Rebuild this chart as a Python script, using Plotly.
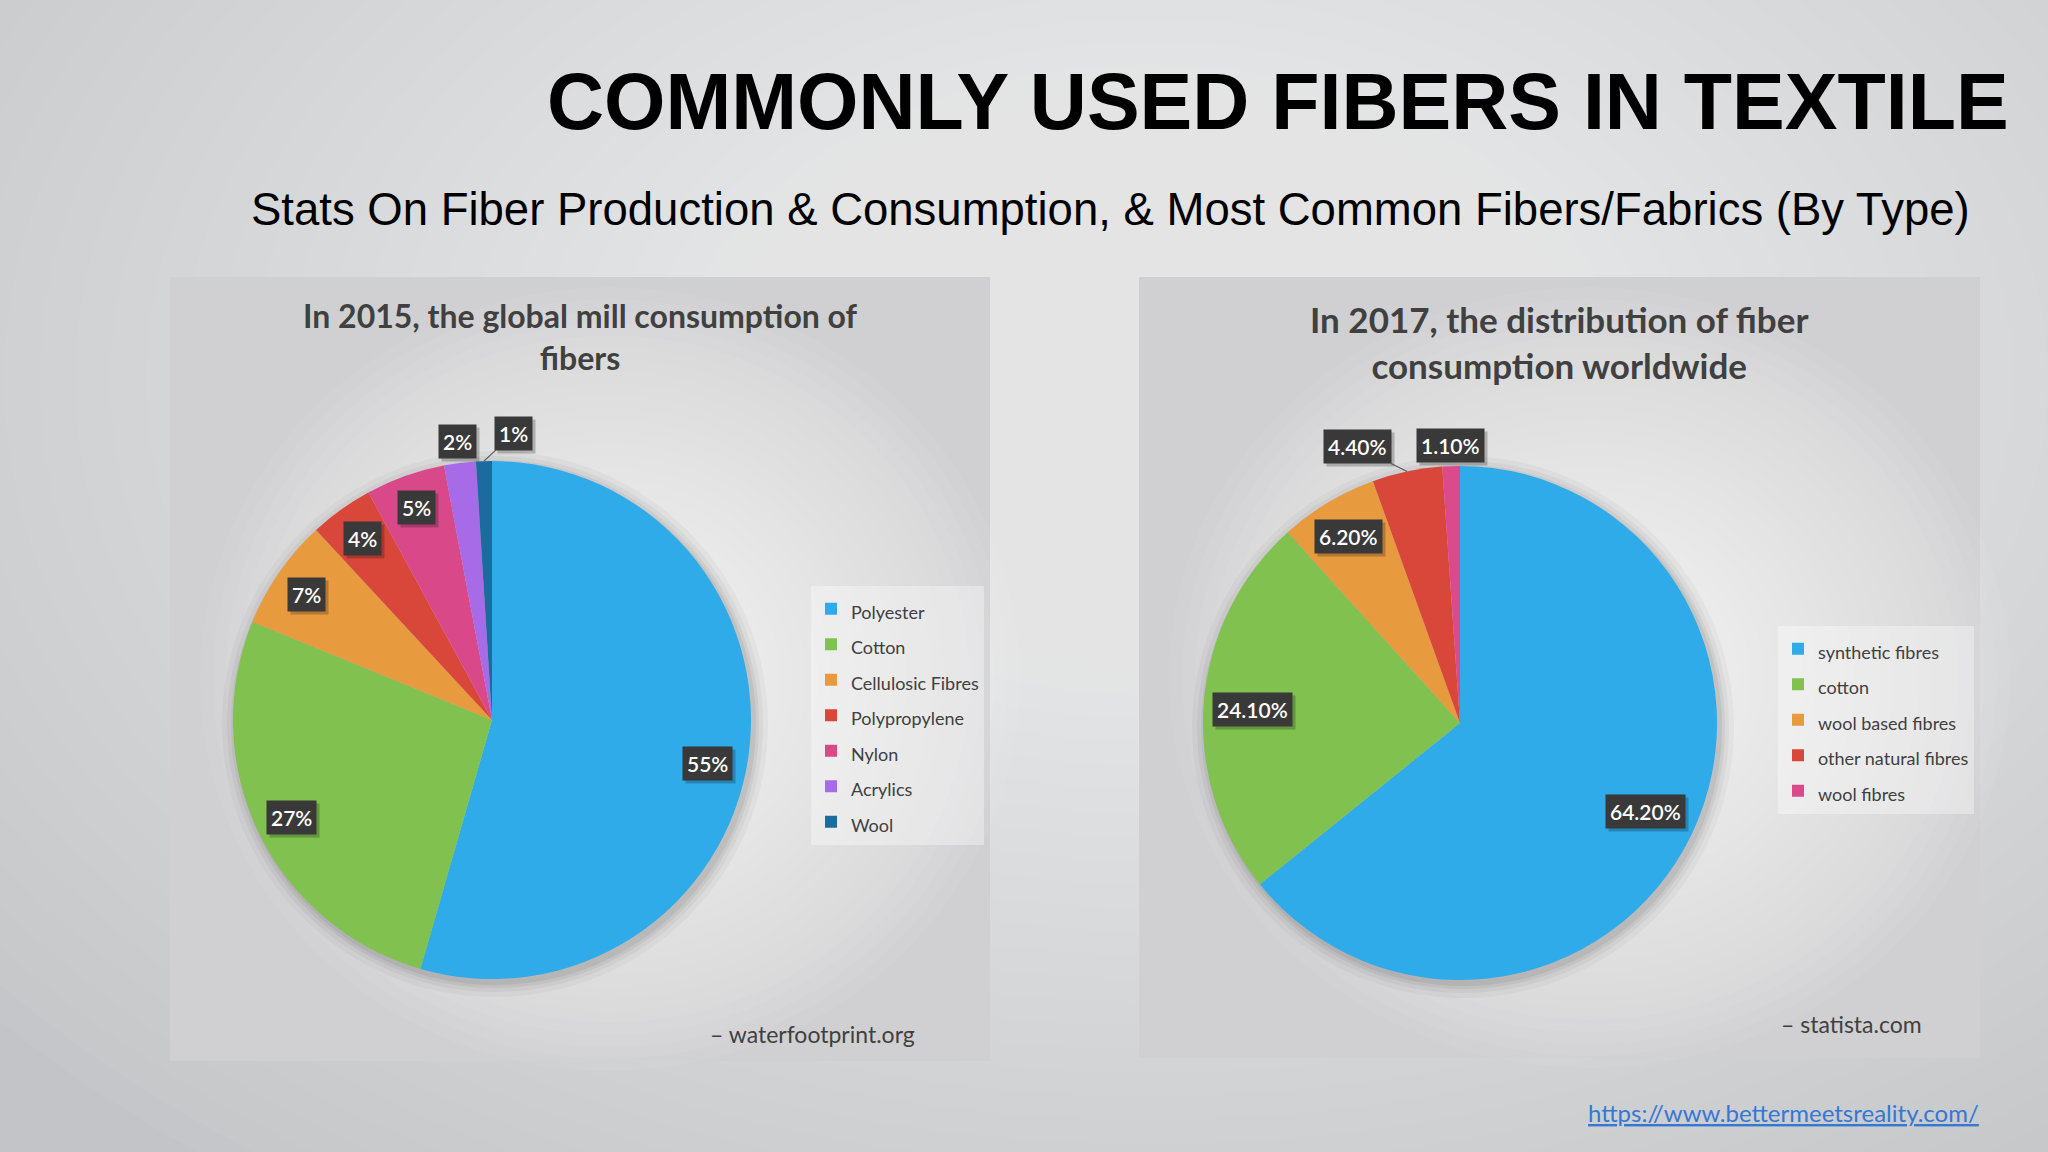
import math
import plotly.graph_objects as go

W, H = 2048, 1152

# ---------------- data ----------------
left_labels = ["Polyester", "Cotton", "Cellulosic Fibres", "Polypropylene", "Nylon", "Acrylics", "Wool"]
left_values = [55, 27, 7, 4, 5, 2, 1]
left_text = ["55%", "27%", "7%", "4%", "5%", "2%", "1%"]

right_labels = ["synthetic fibres", "cotton", "wool based fibres", "other natural fibres", "wool fibres"]
right_values = [64.2, 24.1, 6.2, 4.4, 1.1]
right_text = ["64.20%", "24.10%", "6.20%", "4.40%", "1.10%"]

left_colors = ["#2FABE9", "#80C14F", "#E79A3E", "#D9473A", "#D9498A", "#A86BE8", "#1C6B9E"]
right_colors = ["#2FABE9", "#80C14F", "#E79A3E", "#D9473A", "#DB4A8B"]

# ---------------- helpers ----------------
def px(x):
    return x / W


def py(y):
    return 1 - y / H


PANEL_FONT = "Lato, 'Open Sans', sans-serif"
LEG_TEXT = 18


def leg_label(s):
    return f"<span style='font-size:{LEG_TEXT}px'>{s}</span>"


# pie geometry (pixels)
L_C, L_R = (492, 720), 259
R_C, R_R = (1460, 723), 257

shapes = []
annotations = []

# slide background vignette
N = 36
for i in range(N):
    s = 1 - i * (0.85 / N)
    shapes.append(dict(type="circle", xref="paper", yref="paper", layer="below",
                       x0=px(1150 - 1500 * s), x1=px(1150 + 1500 * s),
                       y0=py(380 + 1000 * s), y1=py(380 - 1000 * s),
                       fillcolor="rgba(255,255,255,0.036)", line=dict(width=0)))


def panel(x0, y0, x1, y1):
    shapes.append(dict(type="rect", xref="paper", yref="paper", layer="below",
                       x0=px(x0), x1=px(x1), y0=py(y1), y1=py(y0),
                       fillcolor="#d0d0d2", line=dict(width=0)))
    cx, cy = (x0 + x1) / 2 + 30, (y0 + y1) / 2 + 10
    hw, hh = (x1 - x0) / 2, (y1 - y0) / 2
    n = 26
    for i in range(n):
        s = 1.0 - i * (0.8 / n)
        shapes.append(dict(type="circle", xref="paper", yref="paper", layer="below",
                           x0=px(cx - hw * s), x1=px(cx + hw * s),
                           y0=py(cy + hh * s), y1=py(cy - hh * s),
                           fillcolor="rgba(255,255,255,0.05)", line=dict(width=0)))


panel(170, 277, 990, 1061)
panel(1139, 277, 1980, 1058)


def pie_shadow(c, r):
    for d, a in [(14, 0.03), (9, 0.04), (5, 0.05), (2, 0.06)]:
        shapes.append(dict(type="circle", xref="paper", yref="paper", layer="below",
                           x0=px(c[0] - r - d + 3), x1=px(c[0] + r + d + 3),
                           y0=py(c[1] + r + d + 4), y1=py(c[1] - r - d + 4),
                           fillcolor=f"rgba(0,0,0,{a})", line=dict(width=0)))


pie_shadow(L_C, L_R)
pie_shadow(R_C, R_R)


def domain(c, r):
    return dict(x=[px(c[0] - r), px(c[0] + r)], y=[py(c[1] + r), py(c[1] - r)])


fig = go.Figure()
fig.add_trace(go.Pie(labels=[leg_label(s) for s in left_labels], values=left_values, sort=False,
                     direction="clockwise", rotation=0,
                     marker=dict(colors=left_colors, line=dict(width=0)),
                     textinfo="none", hoverinfo="skip", domain=domain(L_C, L_R),
                     legend="legend", showlegend=True))
fig.add_trace(go.Pie(labels=[leg_label(s) for s in right_labels], values=right_values, sort=False,
                     direction="clockwise", rotation=0,
                     marker=dict(colors=right_colors, line=dict(width=0)),
                     textinfo="none", hoverinfo="skip", domain=domain(R_C, R_R),
                     legend="legend2", showlegend=True))

BOX = "#3a3939"
LBL_FONT = dict(family=PANEL_FONT, size=21, color="white", weight=600)
SHADOW_FONT = dict(family=PANEL_FONT, size=21, color="rgba(0,0,0,0)", weight=600)


def box_label(x, y, text, ax=None, ay=None):
    common = dict(xref="paper", yref="paper", text=text, borderpad=4,
                  xanchor="center", yanchor="middle")
    tx, ty = (x, y) if ax is None else (x + ax, y + ay)
    annotations.append(dict(x=px(tx), y=py(ty), showarrow=False, xshift=3, yshift=-3,
                            bgcolor="rgba(0,0,0,0.22)", font=SHADOW_FONT, **common))
    if ax is None:
        annotations.append(dict(x=px(x), y=py(y), showarrow=False, bgcolor=BOX, font=LBL_FONT, **common))
    else:
        annotations.append(dict(x=px(x), y=py(y), showarrow=True, ax=ax, ay=ay, arrowhead=0,
                                arrowwidth=1.2, arrowcolor="#595959", standoff=0,
                                bgcolor=BOX, font=LBL_FONT, **common))


def label_pie(c, r, values, texts, place):
    total = sum(values)
    cum = 0
    for v, t, p in zip(values, texts, place):
        a = 2 * math.pi * (cum + v / 2) / total
        cum += v
        sx, sy = math.sin(a), -math.cos(a)
        if p[0] == "in":
            f = p[1]
            nx, ny = (p[2], p[3]) if len(p) > 2 else (0, 0)
            box_label(c[0] + sx * f * r + nx, c[1] + sy * f * r + ny, t)
        else:
            box_label(c[0] + sx * r, c[1] + sy * r, t, ax=p[1], ay=p[2])


label_pie(L_C, L_R, left_values, left_text,
          [("in", 0.86, -5, 12), ("in", 0.86), ("in", 0.87, 0, 3), ("in", 0.86), ("in", 0.87),
           ("in", 1.085), ("lead", 30, -28)])
label_pie(R_C, R_R, right_values, right_text,
          [("in", 0.80), ("in", 0.81, 0, 3), ("in", 0.845), ("lead", -50, -25), ("in", 1.08)])

# titles
annotations.append(dict(x=px(2011), y=py(102), xref="paper", yref="paper", xanchor="right", yanchor="middle",
                        text="<b>COMMONLY USED FIBERS IN TEXTILE</b>", showarrow=False,
                        font=dict(family="'Liberation Sans', Arial, sans-serif", size=79, color="#000000")))
annotations.append(dict(x=px(1110), y=py(209), xref="paper", yref="paper", xanchor="center", yanchor="middle",
                        text="Stats On Fiber Production &amp; Consumption, &amp; Most Common Fibers/Fabrics (By Type)",
                        showarrow=False,
                        font=dict(family="'Liberation Sans', Arial, sans-serif", size=45.5, color="#000000")))
annotations.append(dict(x=px(580), y=py(336), xref="paper", yref="paper", xanchor="center", yanchor="middle",
                        text="In 2015, the global mill consumption of<br>fibers", showarrow=False,
                        font=dict(family=PANEL_FONT, size=32, color="#404040", weight=700)))
annotations.append(dict(x=px(1559), y=py(342), xref="paper", yref="paper", xanchor="center", yanchor="middle",
                        text="In 2017, the distribution of fiber<br>consumption worldwide", showarrow=False,
                        font=dict(family=PANEL_FONT, size=35, color="#404040", weight=700)))
annotations.append(dict(x=px(917), y=py(1034), xref="paper", yref="paper", xanchor="right", yanchor="middle",
                        text="– waterfootprint.org", showarrow=False,
                        font=dict(family=PANEL_FONT, size=23, color="#404040")))
annotations.append(dict(x=px(1924), y=py(1024), xref="paper", yref="paper", xanchor="right", yanchor="middle",
                        text="– statista.com", showarrow=False,
                        font=dict(family=PANEL_FONT, size=23, color="#404040")))
annotations.append(dict(x=px(1586), y=py(1112), xref="paper", yref="paper", xanchor="left", yanchor="middle",
                        text="<u>https://www.bettermeetsreality.com/</u>", showarrow=False,
                        font=dict(family=PANEL_FONT, size=24, color="#3478D4")))

legend_common = dict(bgcolor="rgba(255,255,255,0.35)", borderwidth=0,
                     font=dict(family=PANEL_FONT, size=25, color="#404040"),
                     xanchor="left", yanchor="top", itemclick=False, itemdoubleclick=False)

fig.update_layout(
    width=W, height=H,
    margin=dict(l=0, r=0, t=0, b=0),
    paper_bgcolor="#c2c4c7",
    plot_bgcolor="rgba(0,0,0,0)",
    shapes=shapes,
    annotations=annotations,
    legend=dict(x=px(811), y=py(586), **legend_common),
    legend2=dict(x=px(1778), y=py(626), **legend_common),
)

fig.write_html("out.html")
